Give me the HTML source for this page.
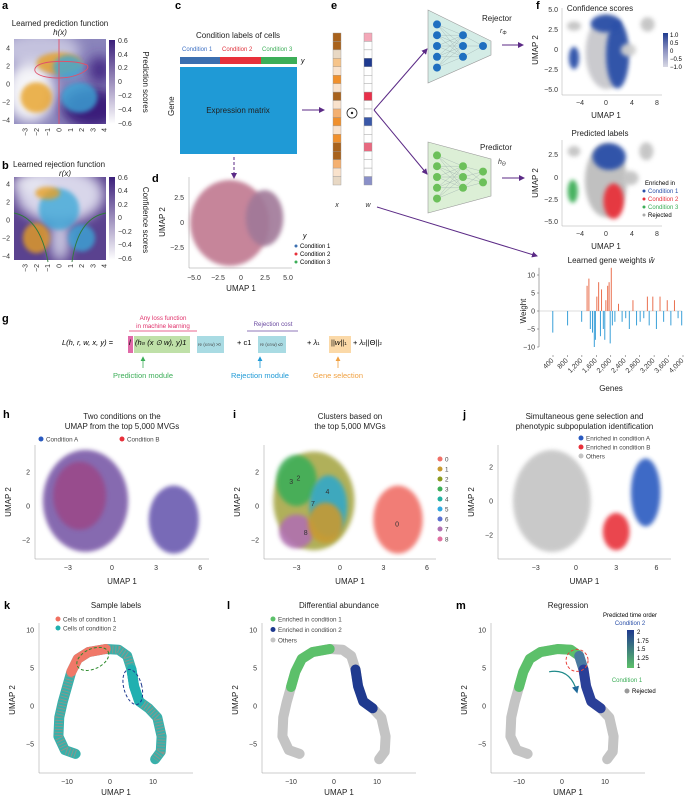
<!DOCTYPE html>
<html><head><meta charset="utf-8">
<style>
html,body{margin:0;padding:0;background:#fff;}
svg{display:block;font-family:"Liberation Sans",sans-serif;}
.pl{font-weight:bold;font-size:11px;}
.t{font-size:7px;fill:#333;}
.tt{font-size:8px;fill:#222;}
</style></head>
<body>
<svg id="fig" width="685" height="798" viewBox="0 0 685 798" xmlns="http://www.w3.org/2000/svg">
<defs>
<linearGradient id="cb" x1="0" y1="1" x2="0" y2="0"><stop offset="0" stop-color="#fff"/><stop offset="1" stop-color="#3b1f7a"/></linearGradient>
<linearGradient id="cbf" x1="0" y1="1" x2="0" y2="0"><stop offset="0" stop-color="#d8d8e4"/><stop offset="0.5" stop-color="#8a90c0"/><stop offset="1" stop-color="#1f3a8f"/></linearGradient>
<linearGradient id="cbm" x1="0" y1="1" x2="0" y2="0"><stop offset="0" stop-color="#5cc06a"/><stop offset="1" stop-color="#1f3a8f"/></linearGradient>
<filter id="bl" x="-50%" y="-50%" width="200%" height="200%"><feGaussianBlur stdDeviation="2"/></filter>
<filter id="bl6" x="-50%" y="-50%" width="200%" height="200%"><feGaussianBlur stdDeviation="6"/></filter>
<clipPath id="clipA"><rect x="14" y="39" width="92" height="85"/></clipPath>
<clipPath id="clipB"><rect x="14" y="177" width="92" height="83"/></clipPath>
<marker id="ar" markerWidth="6" markerHeight="6" refX="5" refY="3" orient="auto"><path d="M0,0L6,3L0,6z" fill="#5b2a86"/></marker>
<marker id="ag" markerWidth="6" markerHeight="6" refX="5" refY="3" orient="auto"><path d="M0,0L6,3L0,6z" fill="#3cae58"/></marker>
<marker id="ab" markerWidth="6" markerHeight="6" refX="5" refY="3" orient="auto"><path d="M0,0L6,3L0,6z" fill="#1f9ad6"/></marker>
<marker id="ao" markerWidth="6" markerHeight="6" refX="5" refY="3" orient="auto"><path d="M0,0L6,3L0,6z" fill="#f0a040"/></marker>
<marker id="at" markerWidth="6" markerHeight="6" refX="5" refY="3" orient="auto"><path d="M0,0L6,3L0,6z" fill="#1f6a9a"/></marker>
</defs>

<g>
<text x="2" y="9" class="pl">a</text>
<text x="60" y="26" class="tt" text-anchor="middle">Learned prediction function</text>
<text x="60" y="35" class="tt" text-anchor="middle" font-style="italic">h(x)</text>
<g clip-path="url(#clipA)">
<rect x="14" y="39" width="92" height="85" fill="#8a84bb"/>
<ellipse cx="40" cy="50" rx="40" ry="18" fill="#c4c2de" filter="url(#bl6)"/>
<ellipse cx="30" cy="92" rx="24" ry="30" fill="#f4f4f8" filter="url(#bl6)"/>
<ellipse cx="92" cy="108" rx="30" ry="20" fill="#3b1f7a" filter="url(#bl6)"/>
<ellipse cx="100" cy="70" rx="12" ry="14" fill="#4a2e88" filter="url(#bl6)"/>
<g id="blobA"></g>
</g>
<path d="M59,39 L59,124" stroke="#e0506a" stroke-width="0.9" fill="none"/>
<path d="M59,78 C40,78 30,72 37,66 C45,60 75,60 87,65 C92,70 75,78 59,78Z" stroke="#e0506a" stroke-width="0.9" fill="none"/>
<rect x="109" y="40" width="6" height="84" fill="url(#cb)"/>
<text x="118" y="43" class="t">0.6</text><text x="118" y="57" class="t">0.4</text><text x="118" y="70" class="t">0.2</text><text x="118" y="84" class="t">0</text><text x="118" y="98" class="t">−0.2</text><text x="118" y="112" class="t">−0.4</text><text x="118" y="126" class="t">−0.6</text>
<text transform="translate(143,82) rotate(90)" class="tt" text-anchor="middle">Prediction scores</text>
<g id="axA"></g>
</g>

<g>
<text x="2" y="169" class="pl">b</text>
<text x="13" y="167" class="tt">Learned rejection function</text>
<text x="65" y="176" class="tt" text-anchor="middle" font-style="italic">r(x)</text>
<g clip-path="url(#clipB)">
<rect x="14" y="177" width="92" height="83" fill="#5a428f"/>
<ellipse cx="60" cy="195" rx="44" ry="28" fill="#d8d6ea" filter="url(#bl6)"/>
<ellipse cx="60" cy="240" rx="10" ry="22" fill="#c8c6e0" filter="url(#bl6)"/>
<ellipse cx="30" cy="184" rx="18" ry="8" fill="#e8e8f2" filter="url(#bl6)"/>
<g id="blobB"></g>
</g>
<path d="M14,213 Q40,218 48,262 M106,213 Q78,218 72,262" stroke="#2f7a3a" stroke-width="0.9" fill="none"/>
<rect x="109" y="177" width="6" height="83" fill="url(#cb)"/>
<text x="118" y="180" class="t">0.6</text><text x="118" y="193" class="t">0.4</text><text x="118" y="207" class="t">0.2</text><text x="118" y="220" class="t">0</text><text x="118" y="234" class="t">−0.2</text><text x="118" y="247" class="t">−0.4</text><text x="118" y="261" class="t">−0.6</text>
<text transform="translate(143,220) rotate(90)" class="tt" text-anchor="middle">Confidence scores</text>
<g id="axB"></g>
</g>

<g>
<text x="175" y="9" class="pl">c</text>
<text x="238" y="38" class="tt" text-anchor="middle">Condition labels of cells</text>
<text x="182" y="51" font-size="6" fill="#3b6fc4">Condition 1</text>
<text x="222" y="51" font-size="6" fill="#e0303a">Condition 2</text>
<text x="262" y="51" font-size="6" fill="#3cae58">Condition 3</text>
<rect x="180" y="57" width="40" height="7" fill="#3b6fb0"/>
<rect x="220" y="57" width="41" height="7" fill="#e8303a"/>
<rect x="261" y="57" width="36" height="7" fill="#3cae58"/>
<text x="301" y="63" font-size="7" font-style="italic">y</text>
<rect x="180" y="67" width="117" height="87" fill="#1f9ad6"/>
<text x="238" y="113" class="tt" text-anchor="middle" font-size="8.5">Expression matrix</text>
<text transform="translate(174,116) rotate(-90)" class="tt">Gene</text>
<line x1="302" y1="110" x2="324" y2="110" stroke="#5b2a86" stroke-width="1" marker-end="url(#ar)"/>
<line x1="234" y1="157" x2="234" y2="178" stroke="#5b2a86" stroke-width="1" stroke-dasharray="3,2" marker-end="url(#ar)"/>
</g>

<g>
<text x="152" y="182" class="pl">d</text>
<line x1="189" y1="177" x2="189" y2="268" stroke="#999" stroke-width="0.5"/>
<line x1="189" y1="268" x2="292" y2="268" stroke="#999" stroke-width="0.5"/>
<g id="blobD"></g>
<text x="184" y="200" class="t" text-anchor="end">2.5</text><text x="184" y="225" class="t" text-anchor="end">0</text><text x="184" y="250" class="t" text-anchor="end">−2.5</text>
<text x="194" y="280" class="t" text-anchor="middle">−5.0</text><text x="218" y="280" class="t" text-anchor="middle">−2.5</text><text x="241" y="280" class="t" text-anchor="middle">0</text><text x="265" y="280" class="t" text-anchor="middle">2.5</text><text x="288" y="280" class="t" text-anchor="middle">5.0</text>
<text x="241" y="291" class="tt" text-anchor="middle">UMAP 1</text>
<text transform="translate(165,222) rotate(-90)" class="tt" text-anchor="middle">UMAP 2</text>
<text x="303" y="238" font-size="7" font-style="italic">y</text>
<circle cx="296" cy="246" r="1.5" fill="#3b6fb0"/><text x="300" y="248" font-size="6">Condition 1</text>
<circle cx="296" cy="254" r="1.5" fill="#e8303a"/><text x="300" y="256" font-size="6">Condition 2</text>
<circle cx="296" cy="262" r="1.5" fill="#3cae58"/><text x="300" y="264" font-size="6">Condition 3</text>
</g>

<g>
<text x="331" y="9" class="pl">e</text>
<g id="vecX"></g>
<g id="vecW"></g>
<circle cx="352" cy="113" r="5" fill="#fff" stroke="#222" stroke-width="0.8"/><circle cx="352" cy="113" r="1.2" fill="#222"/>
<text x="337" y="207" class="t" font-style="italic" text-anchor="middle">x</text>
<text x="368" y="207" class="t" font-style="italic" text-anchor="middle">w</text>
<line x1="374" y1="110" x2="427" y2="49" stroke="#5b2a86" stroke-width="1" marker-end="url(#ar)"/>
<line x1="374" y1="110" x2="427" y2="174" stroke="#5b2a86" stroke-width="1" marker-end="url(#ar)"/>
<line x1="377" y1="207" x2="537" y2="256" stroke="#5b2a86" stroke-width="1" marker-end="url(#ar)"/>
<path d="M428,10 L491,41 L491,55 L428,83 Z" fill="#d4ece6" stroke="#999" stroke-width="0.6"/>
<path d="M428,142 L491,159 L491,196 L428,213 Z" fill="#dcefd6" stroke="#999" stroke-width="0.6"/>
<g id="nets"></g>
<text x="482" y="21" class="tt">Rejector</text><text x="500" y="33" class="t" font-style="italic">r<tspan font-size="5" dy="1.5">Φ</tspan></text>
<text x="480" y="150" class="tt">Predictor</text><text x="498" y="164" class="t" font-style="italic">h<tspan font-size="5" dy="1.5">Θ</tspan></text>
<line x1="502" y1="45" x2="523" y2="45" stroke="#5b2a86" marker-end="url(#ar)"/>
<line x1="502" y1="178" x2="524" y2="178" stroke="#5b2a86" marker-end="url(#ar)"/>
</g>

<g>
<text x="536" y="9" class="pl">f</text>
<text x="600" y="11" class="tt" text-anchor="middle">Confidence scores</text>
<line x1="562" y1="8" x2="562" y2="95" stroke="#aaa" stroke-width="0.5"/>
<line x1="562" y1="95" x2="662" y2="95" stroke="#aaa" stroke-width="0.5"/>
<g id="blobF1"></g>
<rect x="663" y="33" width="5" height="34" fill="url(#cbf)"/>
<text x="670" y="37" font-size="6">1.0</text><text x="670" y="45" font-size="6">0.5</text><text x="670" y="53" font-size="6">0</text><text x="670" y="61" font-size="6">−0.5</text><text x="670" y="69" font-size="6">−1.0</text>
<text x="558" y="12" class="t" text-anchor="end">5.0</text><text x="558" y="32" class="t" text-anchor="end">2.5</text><text x="558" y="52" class="t" text-anchor="end">0</text><text x="558" y="72" class="t" text-anchor="end">−2.5</text><text x="558" y="92" class="t" text-anchor="end">−5.0</text>
<text x="580" y="105" class="t" text-anchor="middle">−4</text><text x="606" y="105" class="t" text-anchor="middle">0</text><text x="632" y="105" class="t" text-anchor="middle">4</text><text x="657" y="105" class="t" text-anchor="middle">8</text>
<text x="606" y="118" class="tt" text-anchor="middle">UMAP 1</text>
<text transform="translate(538,50) rotate(-90)" class="tt" text-anchor="middle">UMAP 2</text>
<text x="600" y="136" class="tt" text-anchor="middle">Predicted labels</text>
<line x1="562" y1="140" x2="562" y2="226" stroke="#aaa" stroke-width="0.5"/>
<line x1="562" y1="226" x2="662" y2="226" stroke="#aaa" stroke-width="0.5"/>
<g id="blobF2"></g>
<text x="558" y="157" class="t" text-anchor="end">2.5</text><text x="558" y="180" class="t" text-anchor="end">0</text><text x="558" y="202" class="t" text-anchor="end">−2.5</text><text x="558" y="224" class="t" text-anchor="end">−5.0</text>
<text x="580" y="236" class="t" text-anchor="middle">−4</text><text x="606" y="236" class="t" text-anchor="middle">0</text><text x="632" y="236" class="t" text-anchor="middle">4</text><text x="657" y="236" class="t" text-anchor="middle">8</text>
<text x="606" y="249" class="tt" text-anchor="middle">UMAP 1</text>
<text transform="translate(538,183) rotate(-90)" class="tt" text-anchor="middle">UMAP 2</text>
<text x="645" y="185" font-size="6">Enriched in</text>
<circle cx="644" cy="191" r="1.5" fill="#2a4fa8"/><text x="648" y="193" font-size="6" fill="#2a4fa8">Condition 1</text>
<circle cx="644" cy="199" r="1.5" fill="#e8303a"/><text x="648" y="201" font-size="6" fill="#e8303a">Condition 2</text>
<circle cx="644" cy="207" r="1.5" fill="#3cae58"/><text x="648" y="209" font-size="6" fill="#3cae58">Condition 3</text>
<circle cx="644" cy="215" r="1.5" fill="#aaa"/><text x="648" y="217" font-size="6">Rejected</text>
</g>

<g>
<text x="611" y="263" class="tt" text-anchor="middle">Learned gene weights <tspan font-style="italic">ŵ</tspan></text>
<g id="gw"></g>
<text transform="translate(526,311) rotate(-90)" class="tt" text-anchor="middle">Weight</text>
<text x="611" y="391" class="tt" text-anchor="middle">Genes</text>
</g>

<g>
<text x="2" y="322" class="pl">g</text>
<text x="163" y="320" font-size="6.2" fill="#e0306a" text-anchor="middle">Any loss function</text>
<text x="163" y="328" font-size="6.2" fill="#e0306a" text-anchor="middle">in machine learning</text>
<line x1="129" y1="331" x2="197" y2="331" stroke="#e0306a" stroke-width="0.7"/>
<text x="273" y="326" font-size="6.2" fill="#6a4aa0" text-anchor="middle">Rejection cost</text>
<line x1="247" y1="331" x2="298" y2="331" stroke="#6a4aa0" stroke-width="0.7"/>
<rect x="128" y="336" width="5" height="17" fill="#e06aa8"/>
<rect x="134" y="336" width="56" height="17" fill="#bfe0a8"/>
<rect x="197" y="336" width="27" height="17" fill="#a9dbe3"/>
<rect x="258" y="336" width="28" height="17" fill="#a9dbe3"/>
<rect x="329" y="336" width="22" height="17" fill="#fbd9a8"/>
<text x="62" y="345" font-size="7.5" font-style="italic">L(h, r, w, x, y) =</text>
<text x="129" y="345" font-size="7.5" font-style="italic">l</text>
<text x="135" y="345" font-size="7.5" font-style="italic">(h<tspan font-size="4.5">Θ</tspan> (x ⊙ w), y)1</text>
<text x="198" y="346" font-size="4.2" fill="#444">r<tspan font-size="3.5">Φ</tspan> (x⊙w)  &gt;0</text>
<text x="237" y="345" font-size="7.5">+  c1</text>
<text x="260" y="346" font-size="4.2" fill="#444">r<tspan font-size="3.5">Φ</tspan> (x⊙w)  ≤0</text>
<text x="307" y="345" font-size="7.5">+  <tspan font-style="italic">λ</tspan><tspan font-size="4.5">1</tspan></text>
<text x="331" y="345" font-size="7.5">||<tspan font-style="italic">w</tspan>||<tspan font-size="4.5">1</tspan></text>
<text x="353" y="345" font-size="7.5">+ <tspan font-style="italic">λ</tspan><tspan font-size="4.5">2</tspan>||Θ||<tspan font-size="4.5">2</tspan></text>
<line x1="143" y1="368" x2="143" y2="357" stroke="#3cae58" stroke-width="0.8" marker-end="url(#ag)"/>
<line x1="260" y1="368" x2="260" y2="357" stroke="#1f9ad6" stroke-width="0.8" marker-end="url(#ab)"/>
<line x1="338" y1="368" x2="338" y2="357" stroke="#f0a040" stroke-width="0.8" marker-end="url(#ao)"/>
<text x="143" y="378" font-size="7.5" fill="#3cae58" text-anchor="middle">Prediction module</text>
<text x="260" y="378" font-size="7.5" fill="#1f9ad6" text-anchor="middle">Rejection module</text>
<text x="338" y="378" font-size="7.5" fill="#f0a040" text-anchor="middle">Gene selection</text>
</g>

<g id="hij"></g>
<g id="klm"></g>
</svg>

<script>
const NS="http://www.w3.org/2000/svg";
function el(tag,attrs,parent,txt){const e=document.createElementNS(NS,tag);for(const k in attrs)e.setAttribute(k,attrs[k]);if(txt!==undefined)e.textContent=txt;(parent||document.getElementById('fig')).appendChild(e);return e;}

const cloudsA=[[-2,-1.5,1.4,1.7,"#e8a020"],[1.8,-1.5,1.6,1.7,"#3aa8d8"],[0,2.3,2.0,1.2,"#e8a020"],[0.8,1.9,1.3,1.3,"#3aa8d8"]];
const cloudsB=[[-2,-2,1.2,1.7,"#e8a020"],[2,-2,1.2,1.5,"#3aa8d8"],[0,1.2,1.8,2.3,"#3aa8d8"],[-1,3,1.1,0.7,"#e8a020"]];
const cloudsD=[[-1.2,0.1,4.2,4.3,"#c07890"],[2.5,0.6,2.0,2.8,"#a07898"]];
const cloudsF1=[[0.1,-0.3,3.3,4.6,"#c8c8cc"],[1.8,-0.6,1.8,4.2,"#2a4fa8"],[0,3.3,2.4,1.1,"#2a4fa8"],[-5,-1,0.8,1.4,"#2a4fa8"],[-5,3,1.1,0.6,"#c4c4c4"],[6.5,3.2,1.1,0.9,"#c4c4c4"],[3.5,0,1.2,0.8,"#cfcfcf"]];
const cloudsF2=[[0,-0.3,3.3,4.1,"#bdbdbd"],[0.5,2.4,2.6,1.5,"#2a4fa8"],[1.2,-2.6,1.6,2,"#e8303a"],[-5.2,-1.5,0.8,1.3,"#3cae58"],[-5,3,1,0.6,"#c4c4c4"],[6.3,3,1.1,1,"#c4c4c4"],[3.8,0,1.3,0.8,"#c4c4c4"]];

function drawClouds(g,clouds,sx,sy,kx,ky,op,flt){clouds.forEach(b=>{const e=el('ellipse',{cx:sx(b[0]),cy:sy(b[1]),rx:b[2]*kx,ry:b[3]*ky,fill:b[4],opacity:op,filter:flt||'url(#bl)'},g);

});}
const sxAB=v=>59+v*11.3, syA=v=>84-v*9, syB=v=>220-v*9;
drawClouds(document.getElementById('blobA'),cloudsA,sxAB,syA,11.3,9,0.78);
drawClouds(document.getElementById('blobB'),cloudsB,sxAB,syB,11.3,9,0.78);
drawClouds(document.getElementById('blobD'),cloudsD,v=>241+v*9.4,v=>224-v*10,9.4,10,0.9);
drawClouds(document.getElementById('blobF1'),cloudsF1,v=>606+v*6.4,v=>50-v*8,6.4,8,0.95);
drawClouds(document.getElementById('blobF2'),cloudsF2,v=>606+v*6.4,v=>178-v*8.9,6.4,8.9,0.95);

const abXT=["−3","−2","−1","0","1","2","3","4"], abXV=[-3,-2,-1,0,1,2,3,4];
const abYT=["4","2","0","−2","−4"], abYV=[4,2,0,-2,-4];
[['axA',syA,128],['axB',syB,264]].forEach(([id,sy,yy])=>{const g=document.getElementById(id);
 abXV.forEach((v,i)=>el('text',{x:0,y:0,'class':'t',transform:`translate(${sxAB(v)+2.5},${yy}) rotate(-90)`,'text-anchor':'end'},g,abXT[i]));
 abYV.forEach((v,i)=>el('text',{x:10,y:sy(v)+2.5,'class':'t','text-anchor':'end'},g,abYT[i]));});

const xCols=["#a8621c","#a8621c","#e8d8c4","#f6c48a","#f9e2cc","#f0902c","#f9e2cc","#a8621c","#f9e2cc","#f4b070","#f0902c","#f9e2cc","#f0902c","#a8621c","#a8621c","#f4b070","#f9e2cc","#e8d8c4"];
const wCols=["#f4a8b8","#fff","#fff","#1f3a8f","#fff","#fff","#fff","#e8304a","#fff","#fff","#3a58a8","#fff","#fff","#e86a80","#fff","#fff","#fff","#8a90c8"];
const cellH=(185-33)/xCols.length;
xCols.forEach((c,i)=>{const r=el('rect',{x:333,y:33+i*cellH,width:8,height:cellH,fill:c,stroke:'#999','stroke-width':0.4},document.getElementById('vecX'));

});
wCols.forEach((c,i)=>{const r=el('rect',{x:364,y:33+i*cellH,width:8,height:cellH,fill:c,stroke:'#999','stroke-width':0.4},document.getElementById('vecW'));

});

const nets=document.getElementById('nets');
[[46,[5,3,1],"#1f6fc0"],[177,[5,3,2],"#6cc05a"]].forEach(([cy,layers,col])=>{
 const xs=[437,463,483];
 const pos=layers.map((n,li)=>{const out=[];for(let k=0;k<n;k++)out.push([xs[li],cy+(k-(n-1)/2)*10.8]);return out;});
 for(let li=0;li<pos.length-1;li++)pos[li].forEach(a=>pos[li+1].forEach(b=>el('line',{x1:a[0],y1:a[1],x2:b[0],y2:b[1],stroke:'#9aa','stroke-width':0.35},nets)));
 pos.forEach(L=>L.forEach(p=>{const c=el('circle',{cx:p[0],cy:p[1],r:4,fill:col},nets);
 
 }));
});

const geneIdx=[380,790,1180,1330,1380,1420,1480,1530,1560,1600,1650,1700,1730,1780,1820,1850,1900,1940,1970,2000,2030,2100,2200,2300,2400,2500,2600,2700,2800,2900,3000,3050,3150,3250,3350,3450,3550,3650,3750,3850,3950];
const geneW=[-6,-4,-3,7,9,-5,-6,-10,-8,4,8,-7,6,-5,-8,3,7,8,-9,12,-4,-3,2,-3,-2,-5,3,-4,-3,-2,4,-4,4,-5,4,-3,3,-4,3,-2,-4];
const gwYT=["10","5","0","−5","−10"], gwYV=[10,5,0,-5,-10];
const gwXL=["400","800","1,200","1,600","2,000","2,400","2,800","3,200","3,600","4,000"];
const gwXV=[400,800,1200,1600,2000,2400,2800,3200,3600,4000];
(function(){const g=document.getElementById('gw');
 const sx=v=>553+(v-400)*130/3600, sy=v=>311-v*3.6;
 el('line',{x1:539,y1:sy(12),x2:539,y2:sy(-10),stroke:'#555','stroke-width':0.5},g);
 gwYV.forEach((v,i)=>{el('text',{x:535,y:sy(v)+2.5,'class':'t','text-anchor':'end'},g,gwYT[i]);el('line',{x1:537,y1:sy(v),x2:539,y2:sy(v),stroke:'#555','stroke-width':0.5},g);});
 el('line',{x1:539,y1:sy(0),x2:682,y2:sy(0),stroke:'#aaa','stroke-width':0.4},g);
 gwXV.forEach((v,i)=>{el('line',{x1:sx(v),y1:355,x2:sx(v),y2:357,stroke:'#555','stroke-width':0.5},g);
  el('text',{x:0,y:0,'class':'t','font-size':6,'text-anchor':'end',transform:`translate(${sx(v)+1},${361}) rotate(-45)`},g,gwXL[i]);});
 geneIdx.forEach((gi,i)=>{const w=geneW[i];const r=el('rect',{x:sx(gi),y:Math.min(sy(0),sy(w)),width:1,height:Math.abs(sy(w)-sy(0)),fill:w>0?'#ea7050':'#3aa0d8'},g);
 
 });
})();

const hij=[
 {id:'h',fx:35,fw:174,x0:112,kx:14.7,y0:506,ky:17,title:["Two conditions on the","UMAP from the top 5,000 MVGs"],
  clouds:[[-1.8,0.3,2.9,3.0,"#7a5aa8"],[-2.2,0.6,1.8,2.0,"#9a4a8a"],[4.2,-0.8,1.7,2.0,"#6a5ab0"]]},
 {id:'i',fx:264,fw:172,x0:340,kx:14.5,y0:506,ky:17,title:["Clusters based on","the top 5,000 MVGs"],
  clouds:[[-1.8,0.3,2.8,2.9,"#a8a848"],[-3,1.5,1.4,1.5,"#3cae58"],[-0.8,0,1.3,1.8,"#30a8c8"],[-3,-1.5,1.2,1.0,"#b070b0"],[-1,-1,1.2,1.2,"#c89a30"],[4,-0.8,1.7,2.0,"#f07068"]]},
 {id:'j',fx:498,fw:173,x0:576,kx:13.4,y0:501,ky:17,title:["Simultaneous gene selection and","phenotypic subpopulation identification"],
  clouds:[[-1.8,0,2.9,3.0,"#c4c4c4"],[5.2,0.5,1.1,2.0,"#2a5ac0"],[3,-1.8,1.0,1.1,"#e8303a"]]}
];
const hijXT=["−3","0","3","6"], hijXV=[-3,0,3,6];
const hijYT=["2","0","−2"], hijYV=[2,0,-2];
const legends={h:[["#2a5ac0","Condition A"],["#e8303a","Condition B"]],
 i:[["#f07068","0"],["#c89a30","1"],["#8a9a20","2"],["#3cae58","3"],["#20b0a0","4"],["#30a8e0","5"],["#5a70d0","6"],["#b070b0","7"],["#e070a0","8"]],
 j:[["#2a5ac0","Enriched in condition A"],["#e8303a","Enriched in condition B"],["#c4c4c4","Others"]],
 k:[["#f07060","Cells of condition 1"],["#20b0b0","Cells of condition 2"]],
 l:[["#5cc06a","Enriched in condition 1"],["#1f3a8f","Enriched in condition 2"],["#c4c4c4","Others"]]};
function legend(g,id,lx,ly,dx,dy){legends[id].forEach((e,i)=>{const cx=lx+i*dx,cy=ly+i*dy;el('circle',{cx:cx,cy:cy,r:2.5,fill:e[0]},g);el('text',{x:cx+5,y:cy+2.3,'font-size':6.3,fill:'#444'},g,e[1]);});}
hij.forEach(p=>{const g=el('g',{},document.getElementById('hij'));
 
 
 const sx=v=>p.x0+v*p.kx, sy=v=>p.y0-v*p.ky;
 el('text',{x:(p.id==='h'?3:(p.id==='i'?233:463)),y:418,'class':'pl'},g,p.id);
 p.title.forEach((t,i)=>el('text',{x:p.fx+p.fw/2,y:419+i*10,'class':'tt','text-anchor':'middle'},g,t));
 el('line',{x1:p.fx,y1:445,x2:p.fx,y2:559,stroke:'#999','stroke-width':0.5},g);
 el('line',{x1:p.fx,y1:559,x2:p.fx+p.fw,y2:559,stroke:'#999','stroke-width':0.5},g);
 drawClouds(g,p.clouds,sx,sy,p.kx,p.ky,0.9);
 hijXV.forEach((v,i)=>el('text',{x:sx(v),y:570,'class':'t','text-anchor':'middle'},g,hijXT[i]));
 hijYV.forEach((v,i)=>el('text',{x:p.fx-5,y:sy(v)+2.5,'class':'t','text-anchor':'end'},g,hijYT[i]));
 el('text',{x:p.fx+p.fw/2,y:584,'class':'tt','text-anchor':'middle'},g,'UMAP 1');
 el('text',{x:0,y:0,'class':'tt','text-anchor':'middle',transform:`translate(${p.fx-24},${502}) rotate(-90)`},g,'UMAP 2');
 if(p.id==='h')legend(g,'h',41,439,81,0);
 if(p.id==='i')legend(g,'i',440,459,0,10);
 if(p.id==='j')legend(g,'j',581,438,0,9);
 if(p.id==='i'){[["2",-3,1.5],["3",-3.5,1.3],["4",-1,0.7],["7",-2,0],["8",-2.5,-1.7],["0",3.8,-1.2]].forEach(t=>el('text',{x:sx(t[1]),y:sy(t[2]),'font-size':7,fill:'#333'},g,t[0]));}
});

const archX=[-8,-10.5,-12,-11.8,-11,-10,-9,-7.5,-5,-1,2,4,5,5.6,6.8,9,11,12,11.8,10.5];
const archY=[-6.3,-5.8,-4,-1.5,0.5,2.5,4.5,6.2,7.1,7.5,7.4,6.6,4.8,2.6,0.6,-0.3,-1.5,-4,-6,-7];
const klm=[
 {id:'k',fx:39,x0:110,title:"Sample labels",base:"#38b0aa",overlay:"#f07868",segs:[[6,9,"#f07868"],[12,14,"#20b0b0"]]},
 {id:'l',fx:262,x0:334,title:"Differential abundance",base:"#c4c4c4",overlay:null,segs:[[5,9,"#5cc06a"],[12,15,"#1f3a8f"]]},
 {id:'m',fx:491,x0:562,title:"Regression",base:"#c4c4c4",overlay:null,segs:[[5,11,"#5cc06a"],[11,12,"#4a7aa0"],[12,15,"#2a3f98"]]}
];
const klmXT=["−10","0","10"], klmXV=[-10,0,10];
const klmYT=["10","5","0","−5"], klmYV=[10,5,0,-5];
klm.forEach(p=>{const g=el('g',{},document.getElementById('klm'));
 
 
 const sx=v=>p.x0+v*4.3, sy=v=>706-v*7.6;
 el('text',{x:p.fx-35,y:609,'class':'pl'},g,p.id);
 el('text',{x:p.fx+77,y:608,'class':'tt','text-anchor':'middle'},g,p.title);
 el('line',{x1:p.fx,y1:623,x2:p.fx,y2:773,stroke:'#999','stroke-width':0.5},g);
 el('line',{x1:p.fx,y1:773,x2:p.fx+154,y2:773,stroke:'#999','stroke-width':0.5},g);
 klmXV.forEach((v,i)=>el('text',{x:sx(v),y:784,'class':'t','text-anchor':'middle'},g,klmXT[i]));
 klmYV.forEach((v,i)=>el('text',{x:p.fx-5,y:sy(v)+2.5,'class':'t','text-anchor':'end'},g,klmYT[i]));
 el('text',{x:p.fx+77,y:795,'class':'tt','text-anchor':'middle'},g,'UMAP 1');
 el('text',{x:0,y:0,'class':'tt','text-anchor':'middle',transform:`translate(${p.fx-24},${700}) rotate(-90)`},g,'UMAP 2');
 const pts=archX.map((x,i)=>sx(x)+','+sy(archY[i])).join(' ');
 const base=el('polyline',{points:pts,fill:'none',stroke:p.base,'stroke-width':10,'stroke-linejoin':'round','stroke-linecap':'round'},g);
 
 
 if(p.overlay)el('polyline',{points:pts,fill:'none',stroke:p.overlay,'stroke-width':8,'stroke-dasharray':'1,2','stroke-linejoin':'round',opacity:0.45},g);
 p.segs.forEach(s=>{const sp=[];for(let i=s[0];i<=s[1];i++)sp.push(sx(archX[i])+','+sy(archY[i]));
  const seg=el('polyline',{points:sp.join(' '),fill:'none',stroke:s[2],'stroke-width':10,'stroke-linejoin':'round','stroke-linecap':'round'},g);
  
  });
 if(p.id==='k'){legend(g,'k',58,619,0,9);
  el('ellipse',{cx:sx(-4),cy:sy(6.2),rx:17,ry:10,fill:'none',stroke:'#2a8a2a','stroke-width':1,'stroke-dasharray':'3,2',transform:`rotate(-25 ${sx(-4)} ${sy(6.2)})`},g);
  el('ellipse',{cx:sx(5.3),cy:sy(2.5),rx:9,ry:18,fill:'none',stroke:'#1f3a8f','stroke-width':1,'stroke-dasharray':'3,2',transform:`rotate(-15 ${sx(5.3)} ${sy(2.5)})`},g);}
 if(p.id==='l')legend(g,'l',273,619,0,10.5);
 if(p.id==='m'){
  el('circle',{cx:sx(3.5),cy:sy(6),r:11,fill:'none',stroke:'#e8403a','stroke-width':1,'stroke-dasharray':'3,2'},g);
  el('path',{d:`M${sx(-3)},${sy(4.5)} Q${sx(2)},${sy(5)} ${sx(3.5)},${sy(1.8)}`,fill:'none',stroke:'#1f8a8a','stroke-width':1.2,'marker-end':'url(#at)'},g);
  el('text',{x:630,y:617,'font-size':6,'text-anchor':'middle'},g,'Predicted time order');
  el('text',{x:630,y:625,'font-size':6,fill:'#2a4fa8','text-anchor':'middle'},g,'Condition 2');
  el('rect',{x:627,y:630,width:7,height:38,fill:'url(#cbm)'},g);
  [["2",634],["1.75",643],["1.5",651],["1.25",660],["1",668]].forEach(t=>el('text',{x:637,y:t[1],'font-size':6},g,t[0]));
  el('text',{x:627,y:682,'font-size':6,fill:'#3cae58','text-anchor':'middle'},g,'Condition 1');
  el('circle',{cx:627,cy:691,r:2.5,fill:'#999'},g);el('text',{x:632,y:693,'font-size':6},g,'Rejected');}
});
</script>
</body></html>
